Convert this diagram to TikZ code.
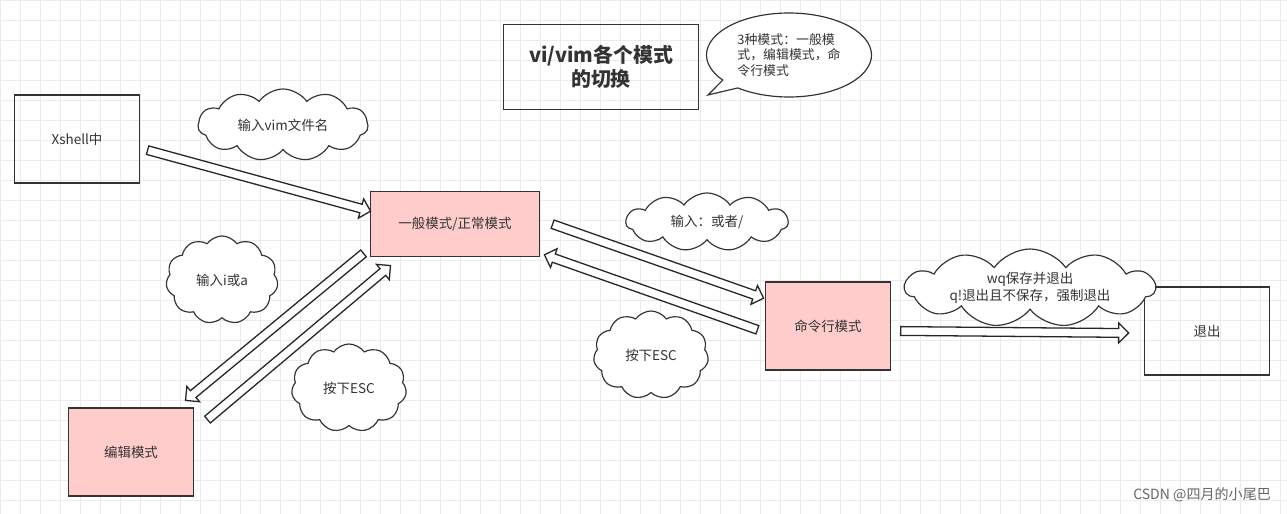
\documentclass[tikz,border=0pt]{standalone}
\usepackage{fontspec}
\setmainfont{Noto Sans CJK SC}
\usetikzlibrary{shapes.symbols,shapes.arrows,shapes.callouts,shapes.geometric,calc}
\begin{document}
\begin{tikzpicture}[x=0.03cm,y=-0.03cm,
  font=\fontsize{11.5}{14}\selectfont, text=black!80,
  box/.style={draw=black!80,line width=1.2pt,minimum width=125*0.03cm,minimum height=88*0.03cm,align=center},
  pinkbox/.style={box,fill=red!20},
  cl/.style={cloud,cloud ignores aspect,draw=black!80,line width=1pt,fill=white,cloud puffs=11,cloud puff arc=110,align=center,inner sep=-8pt},
  hol/.style={to path={let \p1=(\tikztostart),\p2=(\tikztotarget),\n1={atan2(\y2-\y1,\x2-\x1)},\n2={veclen(\x2-\x1,\y2-\y1)} in
     node[single arrow,draw=black!85,line width=1.1pt,fill=white,minimum height=\n2,minimum width=17pt,single arrow head extend=4pt,single arrow head indent=0pt,inner sep=2.6pt,rotate=\n1,anchor=tail] at (\tikztostart) {}}}]
\useasboundingbox (0,0) rectangle (1287,514);
\fill[white] (0,0) rectangle (1287,514);
\foreach \x in {0,20,...,1280} \draw[black!8,line width=0.4pt] (\x,0)--(\x,514);
\foreach \y in {0,20,...,510} \draw[black!8,line width=0.4pt] (0,\y)--(1287,\y);

\node[box] (xs) at (77,139) {Xshell中};
\node[box,minimum width=195*0.03cm,minimum height=85*0.03cm,font=\fontsize{17}{20}\selectfont\bfseries] (title) at (601,67) {vi/vim各个模式\\的切换};
\node[ellipse callout,draw=black!80,line width=1pt,fill=white,minimum width=165*0.03cm,minimum height=84*0.03cm,align=left,inner sep=-2pt,font=\fontsize{11}{13}\selectfont,callout absolute pointer={(708,95)}] (bub) at (789,55) {3种模式：一般模\\式，编辑模式，命\\令行模式};
\node[pinkbox,minimum width=169*0.03cm,minimum height=65*0.03cm] (gen) at (455,224) {一般模式/正常模式};
\node[pinkbox] (cmd) at (828,326) {命令行模式};
\node[pinkbox] (edit) at (131,452) {编辑模式};
\node[box] (quit) at (1207,331) {退出};

\node[cl,minimum width=170*0.03cm,minimum height=72*0.03cm] (c1) at (283,125) {输入vim文件名};
\node[cl,minimum width=162*0.03cm,minimum height=58*0.03cm] (c2) at (707,222) {输入：或者/};
\node[cl,minimum width=112*0.03cm,minimum height=88*0.03cm] (c3) at (222,280) {输入i或a};
\node[cl,minimum width=115*0.03cm,minimum height=88*0.03cm] (c4) at (349,388) {按下ESC};
\node[cl,minimum width=115*0.03cm,minimum height=88*0.03cm] (c5) at (651,355) {按下ESC};
\node[cl,minimum width=250*0.03cm,minimum height=78*0.03cm,inner sep=-14pt] (c6) at (1030,288) {wq保存并退出\\q!退出且不保存，强制退出};

\coordinate (a1s) at (147,150); \coordinate (a1e) at (370,211);
\coordinate (a2s) at (552,224); \coordinate (a2e) at (763,298);
\coordinate (a3s) at (758,330); \coordinate (a3e) at (545,255);
\coordinate (a4s) at (364,253); \coordinate (a4e) at (186,400);
\coordinate (a5s) at (207,420); \coordinate (a5e) at (390,266);
\coordinate (a6s) at (900,331); \coordinate (a6e) at (1128,333);
\foreach \s/\e in {a1s/a1e,a2s/a2e,a3s/a3e,a4s/a4e,a5s/a5e,a6s/a6e} \draw (\s) to[hol] (\e);

\node[text=black!60,font=\fontsize{12}{14}\selectfont,anchor=east] (csdn) at (1275,495) {CSDN @四月的小尾巴};
\end{tikzpicture}
\end{document}
